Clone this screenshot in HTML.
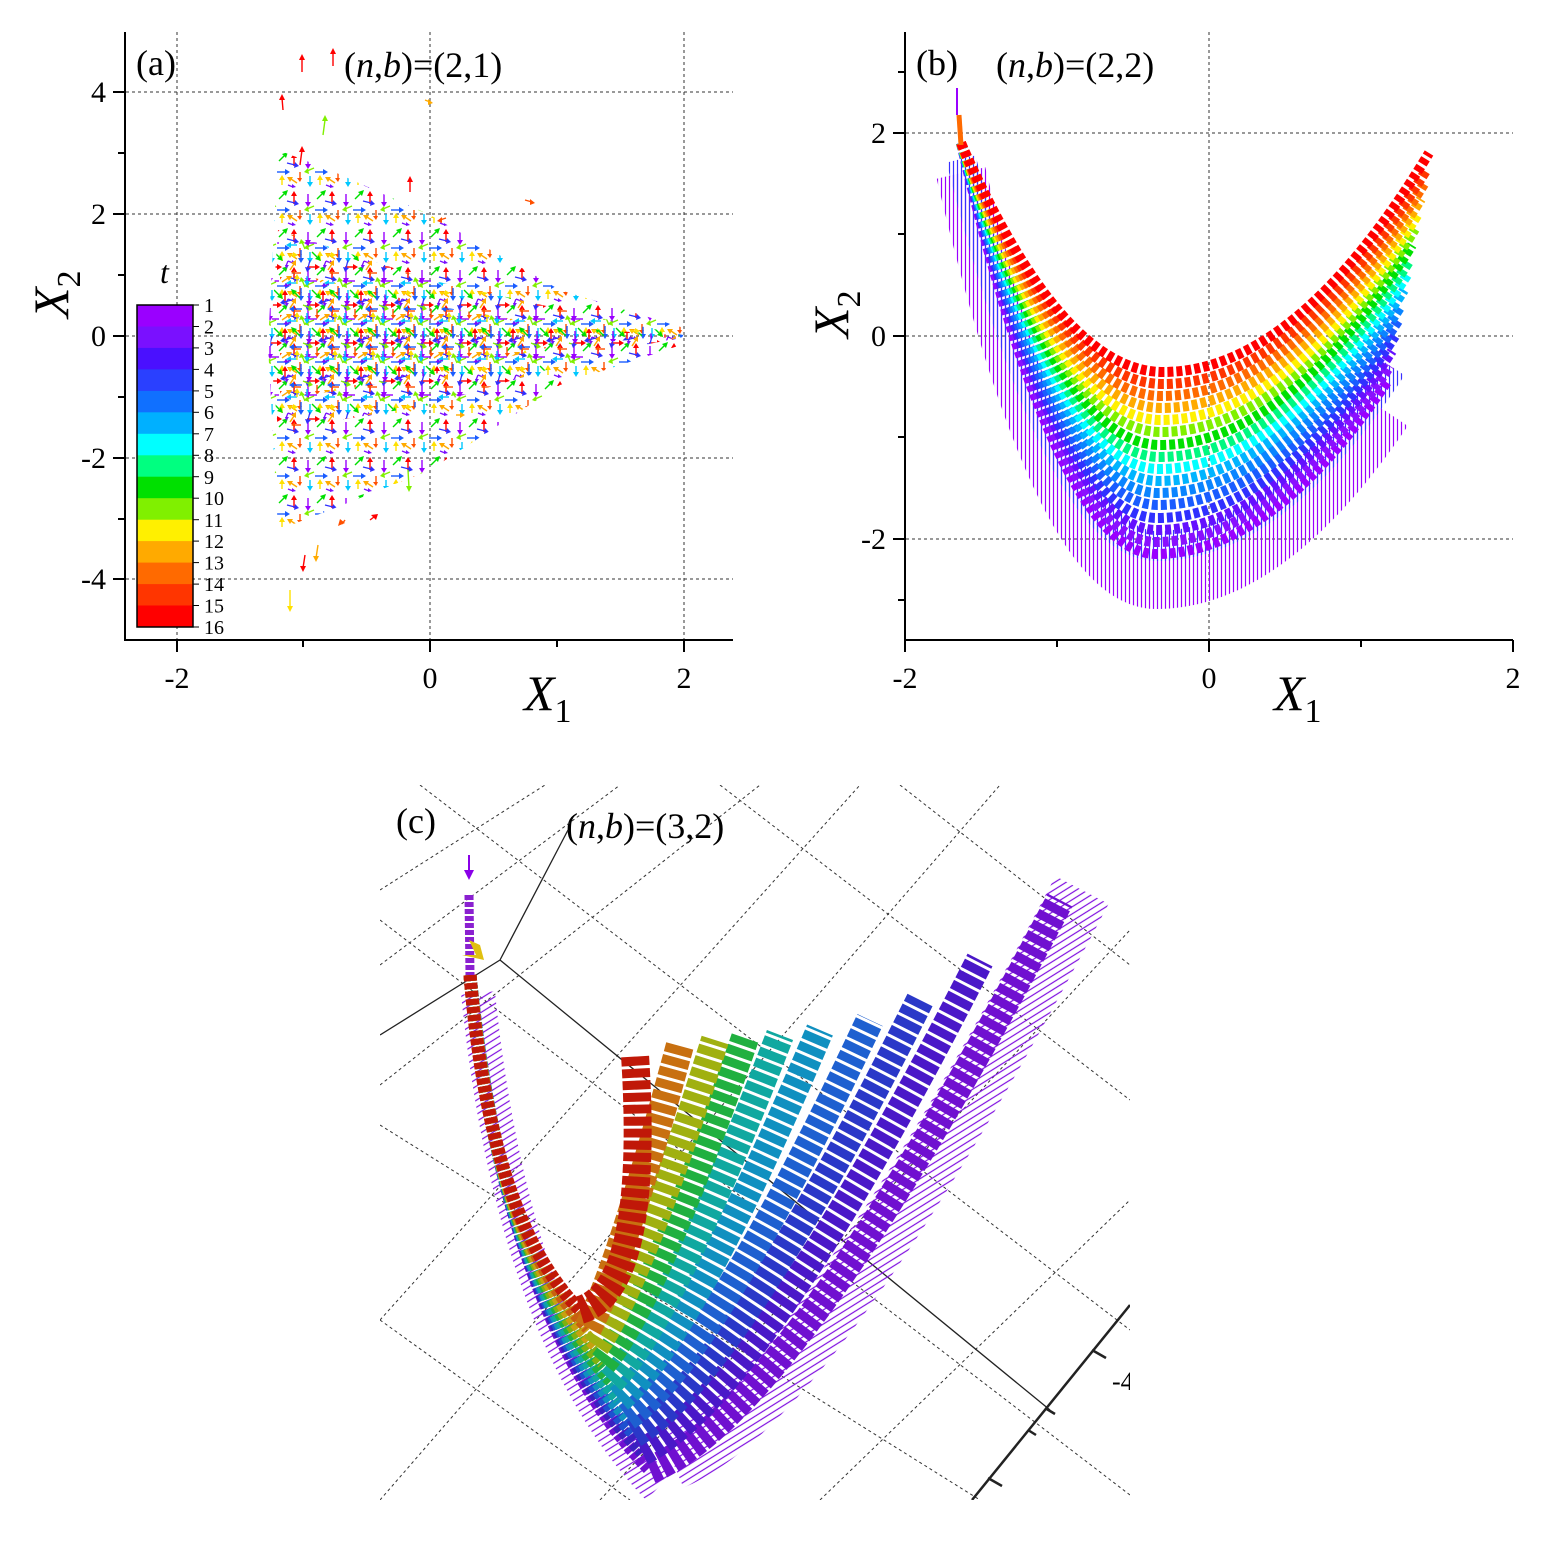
<!DOCTYPE html>
<html><head><meta charset="utf-8">
<style>
html,body{margin:0;padding:0;background:#fff;}
svg{display:block;}
text{font-family:"Liberation Serif",serif;fill:#000;}
</style></head>
<body>
<svg width="1550" height="1568" viewBox="0 0 1550 1568" xmlns="http://www.w3.org/2000/svg">
<defs>
<clipPath id="ca"><rect x="126" y="32" width="607" height="607"/></clipPath>
<clipPath id="cb"><rect x="906" y="32" width="607" height="607"/></clipPath>
<clipPath id="cc"><rect x="380" y="785" width="750" height="715"/></clipPath>
<pattern id="pa" width="38" height="38" patternUnits="userSpaceOnUse">
<g stroke-width="1.4">
<line x1="4" y1="4" x2="4" y2="13" stroke="#9a00ff"/><polygon points="1,12 7,12 4,17" fill="#9a00ff"/>
<line x1="11" y1="20" x2="19" y2="20" stroke="#1a5cff"/><polygon points="19,17 19,23 24,20" fill="#1a5cff"/>
<line x1="28" y1="14" x2="28" y2="5" stroke="#ff0000"/><polygon points="25,6 31,6 28,1" fill="#ff0000"/>
<line x1="13" y1="9" x2="18" y2="4" stroke="#00e000"/><polygon points="16,2 20,6 22,0" fill="#00e000"/>
<line x1="31" y1="31" x2="25" y2="27" stroke="#ffaa00"/><polygon points="24,30 27,25 21,25" fill="#ffaa00"/>
<line x1="6" y1="24" x2="6" y2="31" stroke="#00c8ff"/><polygon points="3,30 9,30 6,35" fill="#00c8ff"/>
<line x1="16" y1="33" x2="16" y2="27" stroke="#ffe000"/><polygon points="13,28 19,28 16,23" fill="#ffe000"/>
<line x1="21" y1="11" x2="29" y2="13" stroke="#3030ff"/><polygon points="29,10 28,16 33,14" fill="#3030ff"/>
<line x1="34" y1="20" x2="34" y2="27" stroke="#ff5000"/><polygon points="31,26 36,26 34,30" fill="#ff5000"/>
<line x1="10" y1="16" x2="3" y2="19" stroke="#80f000"/><polygon points="4,16 5,22 0,20" fill="#80f000"/>
<line x1="22" y1="33" x2="27" y2="35" stroke="#7a10ff"/><polygon points="26,32 26,36 30,35" fill="#7a10ff"/>
</g>
</pattern>
<pattern id="pb" href="#pa" patternTransform="translate(17,11) rotate(90)"/>
<pattern id="pc" href="#pa" patternTransform="translate(9,23) scale(-1,1)"/>
<pattern id="vl" width="4" height="10" patternUnits="userSpaceOnUse"><line x1="1.5" y1="0" x2="1.5" y2="10" stroke="#9a00ff" stroke-width="1.2"/></pattern>
<pattern id="vb" width="4" height="10" patternUnits="userSpaceOnUse"><line x1="1.5" y1="0" x2="1.5" y2="10" stroke="#3a30ff" stroke-width="1.2"/></pattern>
<pattern id="dl" width="6" height="6" patternUnits="userSpaceOnUse" patternTransform="rotate(-32)"><line x1="0" y1="2" x2="6" y2="2" stroke="#8010e0" stroke-width="1.2"/></pattern>
</defs>
<!-- grids -->
<g stroke="#333" stroke-width="1" stroke-dasharray="3,3" fill="none">
<line x1="177" y1="32" x2="177" y2="640"/><line x1="430" y1="32" x2="430" y2="640"/><line x1="684" y1="32" x2="684" y2="640"/>
<line x1="126" y1="92" x2="733" y2="92"/><line x1="126" y1="214" x2="733" y2="214"/><line x1="126" y1="336" x2="733" y2="336"/><line x1="126" y1="458" x2="733" y2="458"/><line x1="126" y1="579" x2="733" y2="579"/>
<line x1="1209" y1="32" x2="1209" y2="640"/>
<line x1="906" y1="133" x2="1513" y2="133"/><line x1="906" y1="336" x2="1513" y2="336"/><line x1="906" y1="539" x2="1513" y2="539"/>
</g>
<!-- panel a data -->
<g clip-path="url(#ca)">
<polygon points="278,150 330,170 430,215 560,290 684,328 688,336 684,344 560,385 430,470 330,510 278,530 268,345" fill="url(#pa)"/>
<polygon points="278,230 430,280 600,318 688,336 600,354 430,405 278,430 270,348" fill="url(#pb)"/>
<polygon points="280,270 430,305 560,327 688,336 560,345 430,375 280,400" fill="url(#pc)"/>
<g stroke-width="1.4">
<line x1="302" y1="72" x2="302" y2="58" stroke="#f00"/><polygon points="299,60 305,60 302,54" fill="#f00"/>
<line x1="333" y1="66" x2="333" y2="52" stroke="#f00"/><polygon points="330,54 336,54 333,48" fill="#f00"/>
<line x1="283" y1="110" x2="282" y2="98" stroke="#f00"/><polygon points="279,100 285,100 282,94" fill="#f00"/>
<line x1="323" y1="135" x2="325" y2="120" stroke="#80f000"/><polygon points="322,121 328,121 325,115" fill="#80f000"/>
<line x1="300" y1="165" x2="302" y2="150" stroke="#f00"/><polygon points="299,152 305,152 302,146" fill="#f00"/>
<line x1="410" y1="192" x2="410" y2="180" stroke="#f00"/><polygon points="407,182 413,182 410,176" fill="#f00"/>
<line x1="290" y1="590" x2="290" y2="608" stroke="#ffe000"/><polygon points="287,606 293,606 290,612" fill="#ffe000"/>
<line x1="305" y1="555" x2="303" y2="568" stroke="#f00"/><polygon points="300,566 306,566 303,572" fill="#f00"/>
<line x1="318" y1="545" x2="316" y2="558" stroke="#ffaa00"/><polygon points="313,556 319,556 316,562" fill="#ffaa00"/>
<line x1="408" y1="470" x2="409" y2="488" stroke="#80f000"/><polygon points="406,486 412,486 409,492" fill="#80f000"/>
<line x1="425" y1="100" x2="430" y2="102" stroke="#ffaa00"/><polygon points="428,99 428,105 433,103" fill="#ffaa00"/>
<line x1="525" y1="200" x2="532" y2="202" stroke="#ff5000"/><polygon points="530,199 530,205 535,203" fill="#ff5000"/>
<line x1="446" y1="218" x2="440" y2="220" stroke="#ff5000"/><polygon points="442,217 442,223 437,221" fill="#ff5000"/>
<line x1="345" y1="520" x2="342" y2="524" stroke="#ff5000"/><polygon points="340,519 345,523 338,526" fill="#ff5000"/>
<line x1="370" y1="520" x2="374" y2="517" stroke="#f00"/><polygon points="371,515 376,520 378,514" fill="#f00"/>
<line x1="456" y1="415" x2="462" y2="415" stroke="#ffaa00"/><polygon points="460,412 460,418 465,415" fill="#ffaa00"/>
</g>
</g>
<!-- panel b data -->
<g clip-path="url(#cb)" fill="none">
<path d="M961,143 Q1058,554 1156,554 Q1271,554 1387,382" transform="translate(0,30)" stroke="url(#vl)" stroke-width="50"/>
<path d="M961,143 Q1059,530 1157,530 Q1275,530 1392,351" transform="translate(0,16)" stroke="url(#vb)" stroke-width="30"/>
<g stroke-width="10" stroke-dasharray="6,3">
<path d="M961,143 Q1058,554 1156,554 Q1271,554 1387,382" stroke="#9a00ff"/>
<path d="M961,143 Q1058,542 1156,542 Q1273,542 1390,366" stroke="#8a10ff"/>
<path d="M961,143 Q1059,530 1157,530 Q1275,530 1392,351" stroke="#6410ff"/>
<path d="M961,143 Q1059,518 1157,518 Q1276,518 1395,336" stroke="#3030ff"/>
<path d="M961,143 Q1059,505 1158,505 Q1278,505 1398,321" stroke="#1a5cff"/>
<path d="M961,143 Q1060,493 1158,493 Q1280,493 1401,306" stroke="#0a84ff"/>
<path d="M961,143 Q1060,481 1159,481 Q1281,481 1404,290" stroke="#00b4ff"/>
<path d="M961,143 Q1060,469 1159,469 Q1283,469 1407,275" stroke="#00ffff"/>
<path d="M961,143 Q1060,457 1160,457 Q1285,457 1410,260" stroke="#00f880"/>
<path d="M961,143 Q1061,445 1160,445 Q1286,445 1412,245" stroke="#00e000"/>
<path d="M961,143 Q1061,432 1161,432 Q1288,432 1415,229" stroke="#80f000"/>
<path d="M961,143 Q1061,420 1161,420 Q1290,420 1418,214" stroke="#fff000"/>
<path d="M961,143 Q1061,408 1162,408 Q1291,408 1421,199" stroke="#ffaa00"/>
<path d="M961,143 Q1062,396 1162,396 Q1293,396 1424,184" stroke="#ff6a00"/>
<path d="M961,143 Q1062,384 1163,384 Q1295,384 1427,169" stroke="#ff3500"/>
<path d="M961,143 Q1062,372 1163,372 Q1296,372 1429,153" stroke="#ff0000"/>
</g>
<line x1="957" y1="88" x2="957" y2="115" stroke="#9a00ff" stroke-width="2"/>
<line x1="959" y1="115" x2="961" y2="145" stroke="#ff6a00" stroke-width="5"/>
</g>
<!-- axes -->
<g stroke="#000" stroke-width="2" fill="none">
<polyline points="125,32 125,640 733,640"/>
<line x1="177" y1="640" x2="177" y2="652"/><line x1="430" y1="640" x2="430" y2="652"/><line x1="684" y1="640" x2="684" y2="652"/>
<line x1="303" y1="640" x2="303" y2="647"/><line x1="557" y1="640" x2="557" y2="647"/>
<line x1="113" y1="92" x2="125" y2="92"/><line x1="113" y1="214" x2="125" y2="214"/><line x1="113" y1="336" x2="125" y2="336"/><line x1="113" y1="458" x2="125" y2="458"/><line x1="113" y1="579" x2="125" y2="579"/>
<line x1="118" y1="153" x2="125" y2="153"/><line x1="118" y1="275" x2="125" y2="275"/><line x1="118" y1="397" x2="125" y2="397"/><line x1="118" y1="519" x2="125" y2="519"/>
<polyline points="905,32 905,640 1513,640"/>
<line x1="905" y1="640" x2="905" y2="652"/><line x1="1209" y1="640" x2="1209" y2="652"/><line x1="1513" y1="640" x2="1513" y2="652"/>
<line x1="1057" y1="640" x2="1057" y2="647"/><line x1="1361" y1="640" x2="1361" y2="647"/>
<line x1="893" y1="133" x2="905" y2="133"/><line x1="893" y1="336" x2="905" y2="336"/><line x1="893" y1="539" x2="905" y2="539"/>
<line x1="898" y1="234" x2="905" y2="234"/><line x1="898" y1="437" x2="905" y2="437"/><line x1="898" y1="72" x2="905" y2="72"/><line x1="898" y1="600" x2="905" y2="600"/>
</g>
<g font-size="30">
<text x="177" y="688" text-anchor="middle">-2</text><text x="430" y="688" text-anchor="middle">0</text><text x="684" y="688" text-anchor="middle">2</text>
<text x="106" y="102" text-anchor="end">4</text><text x="106" y="224" text-anchor="end">2</text><text x="106" y="346" text-anchor="end">0</text><text x="106" y="468" text-anchor="end">-2</text><text x="106" y="589" text-anchor="end">-4</text>
<text x="905" y="688" text-anchor="middle">-2</text><text x="1209" y="688" text-anchor="middle">0</text><text x="1513" y="688" text-anchor="middle">2</text>
<text x="886" y="143" text-anchor="end">2</text><text x="886" y="346" text-anchor="end">0</text><text x="886" y="549" text-anchor="end">-2</text>
</g>
<g font-size="36">
<text x="136" y="75">(a)</text>
<text x="344" y="77">(<tspan font-style="italic">n</tspan>,<tspan font-style="italic">b</tspan>)=(2,1)</text>
<text x="916" y="75">(b)</text>
<text x="996" y="77">(<tspan font-style="italic">n</tspan>,<tspan font-style="italic">b</tspan>)=(2,2)</text>
<text x="396" y="833">(c)</text>
<text x="566" y="838">(<tspan font-style="italic">n</tspan>,<tspan font-style="italic">b</tspan>)=(3,2)</text>
</g>
<g font-size="50" font-style="italic">
<text x="524" y="710">X<tspan font-size="34" font-style="normal" dy="12">1</tspan></text>
<text x="1274" y="710">X<tspan font-size="34" font-style="normal" dy="12">1</tspan></text>
<text transform="translate(68,318) rotate(-90)">X<tspan font-size="34" font-style="normal" dy="12">2</tspan></text>
<text transform="translate(848,338) rotate(-90)">X<tspan font-size="34" font-style="normal" dy="12">2</tspan></text>
</g>
<text x="160" y="283" font-size="32" font-style="italic">t</text>
<!-- colorbar -->
<g>
<rect x="137" y="305" width="56" height="22" fill="#9a00ff"/>
<rect x="137" y="326.5" width="56" height="22" fill="#7a10ff"/>
<rect x="137" y="347.9" width="56" height="22" fill="#4a10ff"/>
<rect x="137" y="369.4" width="56" height="22" fill="#2a40ff"/>
<rect x="137" y="390.9" width="56" height="22" fill="#1070ff"/>
<rect x="137" y="412.3" width="56" height="22" fill="#00b0ff"/>
<rect x="137" y="433.8" width="56" height="22" fill="#00ffff"/>
<rect x="137" y="455.3" width="56" height="22" fill="#00ff80"/>
<rect x="137" y="476.7" width="56" height="22" fill="#00e000"/>
<rect x="137" y="498.2" width="56" height="22" fill="#80f000"/>
<rect x="137" y="519.7" width="56" height="22" fill="#fff000"/>
<rect x="137" y="541.1" width="56" height="22" fill="#ffaa00"/>
<rect x="137" y="562.6" width="56" height="22" fill="#ff6a00"/>
<rect x="137" y="584.1" width="56" height="22" fill="#ff3500"/>
<rect x="137" y="605.5" width="56" height="21.5" fill="#ff0000"/>
<rect x="137" y="305" width="56" height="322" fill="none" stroke="#000" stroke-width="1.5"/>
<g stroke="#000" stroke-width="1">
<line x1="193" y1="305" x2="199" y2="305"/><line x1="193" y1="326.5" x2="199" y2="326.5"/><line x1="193" y1="347.9" x2="199" y2="347.9"/><line x1="193" y1="369.4" x2="199" y2="369.4"/><line x1="193" y1="390.9" x2="199" y2="390.9"/><line x1="193" y1="412.3" x2="199" y2="412.3"/><line x1="193" y1="433.8" x2="199" y2="433.8"/><line x1="193" y1="455.3" x2="199" y2="455.3"/><line x1="193" y1="476.7" x2="199" y2="476.7"/><line x1="193" y1="498.2" x2="199" y2="498.2"/><line x1="193" y1="519.7" x2="199" y2="519.7"/><line x1="193" y1="541.1" x2="199" y2="541.1"/><line x1="193" y1="562.6" x2="199" y2="562.6"/><line x1="193" y1="584.1" x2="199" y2="584.1"/><line x1="193" y1="605.5" x2="199" y2="605.5"/><line x1="193" y1="627" x2="199" y2="627"/>
</g>
<g font-size="20">
<text x="204" y="312">1</text><text x="204" y="333.5">2</text><text x="204" y="355">3</text><text x="204" y="376.5">4</text><text x="204" y="398">5</text><text x="204" y="419">6</text><text x="204" y="441">7</text><text x="204" y="462">8</text><text x="204" y="484">9</text><text x="204" y="505">10</text><text x="204" y="527">11</text><text x="204" y="548">12</text><text x="204" y="569.5">13</text><text x="204" y="591">14</text><text x="204" y="612.5">15</text><text x="204" y="634">16</text>
</g>
</g>
<!-- panel c -->
<g clip-path="url(#cc)">
<g stroke="#333" stroke-width="1" stroke-dasharray="3,3" fill="none">
<line x1="380" y1="890" x2="545" y2="785"/><line x1="380" y1="965" x2="620" y2="785"/><line x1="380" y1="1085" x2="760" y2="785"/><line x1="380" y1="1320" x2="860" y2="785"/><line x1="380" y1="1500" x2="1000" y2="785"/><line x1="600" y1="1500" x2="1130" y2="930"/><line x1="820" y1="1500" x2="1130" y2="1200"/>
<line x1="420" y1="785" x2="1130" y2="1330"/><line x1="380" y1="920" x2="1130" y2="1495"/><line x1="380" y1="1125" x2="980" y2="1500"/><line x1="380" y1="1320" x2="630" y2="1500"/><line x1="720" y1="785" x2="1130" y2="1100"/><line x1="900" y1="785" x2="1130" y2="965"/>
</g>
<g stroke="#222" stroke-width="1.3" fill="none">
<line x1="500" y1="960" x2="1050" y2="1410"/>
<line x1="500" y1="960" x2="568" y2="830"/>
<line x1="500" y1="960" x2="380" y2="1035"/>
<line x1="972" y1="1500" x2="1130" y2="1305" stroke-width="2.5"/>
<line x1="1092" y1="1350" x2="1106" y2="1358" stroke-width="2.5"/>
<line x1="1045" y1="1408" x2="1055" y2="1414" stroke-width="2.5"/>
<line x1="1028" y1="1430" x2="1036" y2="1435" stroke-width="2.5"/>
<line x1="988" y1="1478" x2="1002" y2="1486" stroke-width="2.5"/>
</g>
<text x="1112" y="1390" font-size="26">-4</text>
<g fill="none">
<path d="M650,1470 Q794,1410 1060,900" transform="translate(22,-10)" stroke="url(#dl)" stroke-width="60"/>
<path d="M470,975 Q505,1320 650,1470" transform="translate(8,18)" stroke="url(#dl)" stroke-width="34"/>
<g stroke-width="13" stroke-dasharray="6,2">
<path d="M470,975 Q505,1320 650,1470" stroke="#7010d0"/>
<path d="M470,975 Q503,1309 642,1452" stroke="#3a20c0"/>
<path d="M470,975 Q502,1298 634,1434" stroke="#1e50d0"/>
<path d="M470,975 Q500,1287 627,1417" stroke="#1090c0"/>
<path d="M470,975 Q498,1276 619,1399" stroke="#10a8a0"/>
<path d="M470,975 Q497,1264 611,1381" stroke="#20b040"/>
<path d="M470,975 Q495,1253 603,1363" stroke="#80b010"/>
<path d="M470,975 Q493,1242 596,1346" stroke="#c8a010"/>
<path d="M470,975 Q492,1231 588,1328" stroke="#c86010"/>
<path d="M470,975 Q490,1220 580,1310" stroke="#c01808"/>
</g>
<g stroke-width="28" stroke-dasharray="9,3">
<path d="M650,1470 Q794,1410 1060,900" stroke="#7010d0"/>
<path d="M642,1452 Q760,1392 980,960" stroke="#4a18c8"/>
<path d="M634,1434 Q734,1374 920,1000" stroke="#2a38c8"/>
<path d="M627,1417 Q712,1357 870,1020" stroke="#1e60d0"/>
<path d="M619,1399 Q689,1339 820,1030" stroke="#1090c0"/>
<path d="M611,1381 Q670,1321 780,1035" stroke="#10a8a0"/>
<path d="M603,1363 Q653,1303 745,1038" stroke="#20b040"/>
<path d="M596,1346 Q638,1286 715,1040" stroke="#a0b010"/>
<path d="M588,1328 Q620,1268 680,1045" stroke="#c87010"/>
<path d="M580,1310 Q650,1290 635,1055" stroke="#c01808"/>
</g>
<line x1="469" y1="895" x2="470" y2="975" stroke="#8a20d0" stroke-width="9" stroke-dasharray="5,2"/>
<line x1="469" y1="855" x2="469" y2="872" stroke="#8a00e8" stroke-width="2"/>
<polygon points="464,870 474,870 469,880" fill="#8a00e8"/>
<polygon points="462,955 476,955 469,940 480,945 484,960" fill="#e0c010"/>
</g>
</g>
</svg>
</body></html>
